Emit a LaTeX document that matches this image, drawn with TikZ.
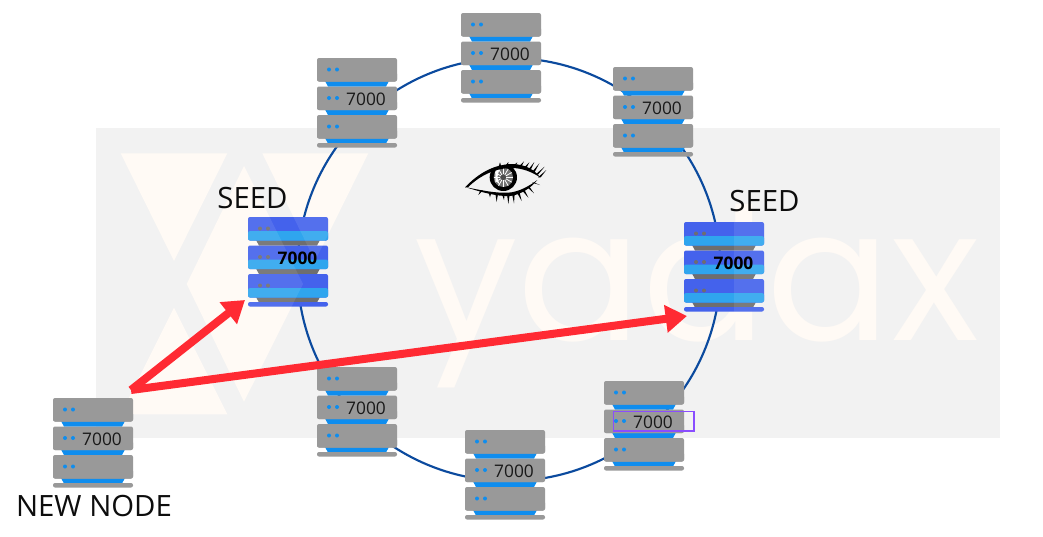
\documentclass[tikz,border=0pt]{standalone}
\usepackage{fontspec}
\setmainfont{Open Sans}
\newfontfamily\markfont{Poppins}
\usetikzlibrary{arrows.meta}

\tikzset{
  unitbar/.style={rounded corners=1.5pt},
  portlabel/.style={inner sep=0pt, font=\fontsize{13}{15}\selectfont, text=black!90},
  seedlabel/.style={inner sep=0pt, font=\fontsize{13}{15}\selectfont\bfseries, text=black},
  biglabel/.style={inner sep=0pt, font=\fontsize{22}{26}\selectfont, text=black!95},
  stackbox/.style={minimum width=60pt, minimum height=67pt, inner sep=0pt},
  joinarrow/.style={draw=arrowred, line width=6pt, -{Triangle[length=16pt,width=20pt]}}
}

% x, y, unit colour, band colour, link colour, dot colour
\newcommand{\drawstack}[6]{
  \begin{scope}[shift={(#1,#2)}]
    \foreach \uy in {23,51.5,80}
      \fill[#5] (8,\uy) -- (72,\uy) -- (69,\uy+5.5) -- (11,\uy+5.5) -- cycle;
    \foreach \uy in {0,28.5,57} {
      \fill[#3, unitbar] (0,\uy) rectangle (80,\uy+23.5);
      \fill[#4, unitbar] (0,\uy+14) rectangle (80,\uy+23.5);
      \fill[#6] (12,\uy+11.5) circle (2);
      \fill[#6] (20,\uy+11.5) circle (2);
    }
    \fill[#3, unitbar] (0,85) rectangle (80,89.5);
  \end{scope}
}

\begin{document}
\begin{tikzpicture}[x=0.75pt, y=-0.75pt]
  % Define colors
  \colorlet{panelgrey}{black!5}
  \colorlet{markcream}{orange!4!white}
  \definecolor{ringblue}{HTML}{0B4A9E}
  \definecolor{arrowred}{HTML}{FF2A33}
  \definecolor{unitgrey}{HTML}{999999}
  \definecolor{linkblue}{HTML}{0F8DEE}
  \definecolor{seedblue}{HTML}{4462EC}
  \definecolor{seedband}{HTML}{2FA5EE}
  \definecolor{linkgrey}{HTML}{6E6E6E}
  \definecolor{picked}{HTML}{8A4DFF}

  \useasboundingbox (0,0) rectangle (1043,536);
  \fill[white] (0,0) rectangle (1043,536);

  % Background panel and watermark
  \fill[panelgrey] (96,128) rectangle (1000,438);
  \fill[markcream] (120.7,153.3) -- (227.3,153.3) -- (174,261) -- cycle;
  \fill[markcream] (262.3,153.3) -- (368.3,153.3) -- (315,261) -- cycle;
  \fill[markcream] (244,166) -- (303,284) -- (244,401.7) -- (186.7,284) -- cycle;
  \fill[markcream] (174,307.7) -- (227.3,414.3) -- (120.7,414.3) -- cycle;
  \node[inner sep=0pt, anchor=base west, text=markcream, font=\markfont\fontsize{138}{138}\selectfont] (markname) at (414,340) {yadax};

  % Ring
  \draw[ringblue, line width=1.6pt] (509,269.5) circle (211.5);

  % Plain servers
  \foreach \nx/\ny/\nname in {461/13/top, 317/58/upleft, 613/67/upright, 317/367/lowleft, 465/430/bottom, 604/381/lowright, 53/398/newnode} {
    \drawstack{\nx}{\ny}{unitgrey}{unitgrey}{linkblue}{linkblue}
    \node[stackbox] (\nname) at (\nx+40,\ny+45) {};
    \node[portlabel] (\nname-port) at (\nx+49,\ny+41) {7000};
  }

  % Seed servers
  \foreach \nx/\ny/\nname in {248/217/seedleft, 684/222/seedright} {
    \drawstack{\nx}{\ny}{seedblue}{seedband}{linkgrey}{linkgrey}
  }

  % Watermark shows faintly through the seeds
  \begin{scope}
    \clip (248,217) rectangle (328,306.5) (684,222) rectangle (764,311.5);
    \fill[white, opacity=0.09] (262.3,153.3) -- (368.3,153.3) -- (315,261) -- cycle;
    \fill[white, opacity=0.09] (244,166) -- (303,284) -- (244,401.7) -- (186.7,284) -- cycle;
    \fill[white, opacity=0.09] (734,200) rectangle (770,320);
  \end{scope}

  \foreach \nx/\ny/\nname in {248/217/seedleft, 684/222/seedright} {
    \node[stackbox] (\nname) at (\nx+40,\ny+45) {};
    \node[seedlabel] (\nname-port) at (\nx+49.5,\ny+41) {7000};
  }

  % Selection box
  \node[draw=picked, line width=1.1pt, minimum width=60.5pt, minimum height=14.5pt, inner sep=0pt] (selectbox) at (653.7,421.3) {};

  % Labels
  \node[biglabel] (seedlefttext) at (252.5,198) {SEED};
  \node[biglabel] (seedrighttext) at (764.5,201) {SEED};
  \node[biglabel] (newnodetext) at (94,506) {NEW NODE};

  % Join arrows
  \coordinate (joinstart) at (131,390);
  \coordinate (leftend) at (245,300);
  \coordinate (rightend) at (687,316);
  \draw[joinarrow] (joinstart) -- (leftend);
  \draw[joinarrow] (joinstart) -- (rightend);

  % Eye
  \begin{scope}[shift={(440,140)}, x=0.25pt, y=-0.25pt]
    \begin{scope}
      \clip (75,142) .. controls (120,90) and (170,75) .. (215,78)
        .. controls (250,80) and (275,100) .. (292,122)
        .. controls (265,145) and (235,165) .. (205,165)
        .. controls (165,165) and (120,155) .. (75,142) -- cycle;
      \fill[black] (190,112) circle (41);
      \fill[black!55] (190,112) circle (29);
      \foreach \ang in {0,30,...,330}
        \draw[white, line width=0.6pt] (190,112) ++(\ang:9) -- ++(\ang:20);
      \fill[black!70] (190,112) circle (8);
      \fill[white] (166,92) -- (178,88) -- (172,112) -- (178,132) -- (166,122) -- cycle;
    \end{scope}
    \fill[black] (75,142) .. controls (115,100) and (160,74) .. (215,72)
      .. controls (255,72) and (285,90) .. (300,112)
      .. controls (275,95) and (245,84) .. (215,84)
      .. controls (165,84) and (118,108) .. (85,141) -- cycle;
    \fill[black] (75,141) .. controls (120,155) and (170,170) .. (210,168)
      .. controls (240,165) and (272,145) .. (292,120)
      .. controls (265,140) and (235,156) .. (205,158)
      .. controls (165,160) and (120,150) .. (75,141) -- cycle;
    \foreach \rx/\ry/\tx/\ty in {180/78/180/67, 200/76/205/66, 222/76/232/67, 240/78/252/64, 255/82/268/67, 268/88/283/66, 280/94/298/70, 290/102/314/80, 298/110/319/90}
      \fill[black] (\rx-4,\ry+2) -- (\tx,\ty) -- (\rx+4,\ry+2) -- cycle;
    \foreach \rx/\ry/\tx/\ty in {125/153/115/165, 150/160/150/172, 170/163/170/186, 190/165/192/180, 205/165/205/192, 220/163/222/190, 235/160/245/183, 250/153/265/173, 265/143/282/160, 280/130/300/135}
      \fill[black] (\rx-4,\ry-2) -- (\tx,\ty) -- (\rx+4,\ry-2) -- cycle;
  \end{scope}
\end{tikzpicture}
\end{document}
